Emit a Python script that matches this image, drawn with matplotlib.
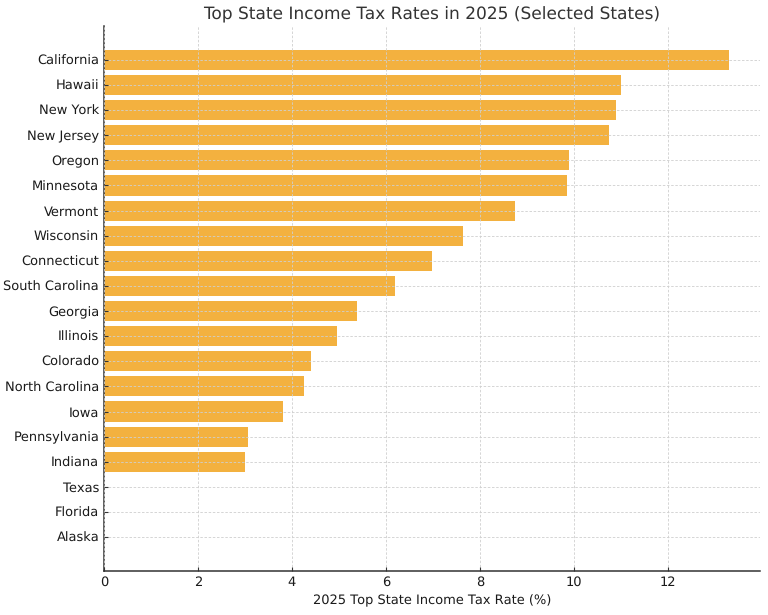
import matplotlib
matplotlib.use("Agg")
import matplotlib.pyplot as plt

states = ["California", "Hawaii", "New York", "New Jersey", "Oregon", "Minnesota",
          "Vermont", "Wisconsin", "Connecticut", "South Carolina", "Georgia", "Illinois",
          "Colorado", "North Carolina", "Iowa", "Pennsylvania", "Indiana", "Texas",
          "Florida", "Alaska"]
rates = [13.3, 11.0, 10.9, 10.75, 9.9, 9.85, 8.75, 7.65, 6.99, 6.2, 5.39, 4.95,
         4.4, 4.25, 3.8, 3.07, 3.0, 0.0, 0.0, 0.0]

plt.rcParams['font.family'] = ['DejaVu Sans']
plt.rcParams['text.hinting'] = 'no_hinting'
plt.rcParams['text.hinting_factor'] = 1
fig = plt.figure(figsize=(7.68, 6.15), dpi=100)
ax = fig.add_axes([104/768, 1-571/615, (760-104)/768, (571-26)/615])

ax.barh(states, rates, color='#F3B13F', height=0.8, zorder=1)
ax.set_xlim(0, 13.965)
ax.set_ylim(19 + 1.35, -1.35)

ax.grid(True, linestyle=(0, (3, 2)), color='#cfcfcf', linewidth=0.6, zorder=3)
ax.set_axisbelow(False)
for s in ['top', 'right']:
    ax.spines[s].set_visible(False)
for s in ['left', 'bottom']:
    ax.spines[s].set_color('#333333')
    ax.spines[s].set_linewidth(1.1)

ax.tick_params(axis='both', direction='in', labelsize=9.2, colors='#333333',
               labelcolor='#1a1a1a', length=3.2, width=0.8, pad=3.5)
ax.set_xticks([0, 2, 4, 6, 8, 10, 12])
ax.set_xlabel("2025 Top State Income Tax Rate (%)", fontsize=9.2, color='#1a1a1a', labelpad=4)
ax.set_title("Top State Income Tax Rates in 2025 (Selected States)", fontsize=12.3,
             color='#333333', pad=5)

fig.savefig("out.png", dpi=100)
